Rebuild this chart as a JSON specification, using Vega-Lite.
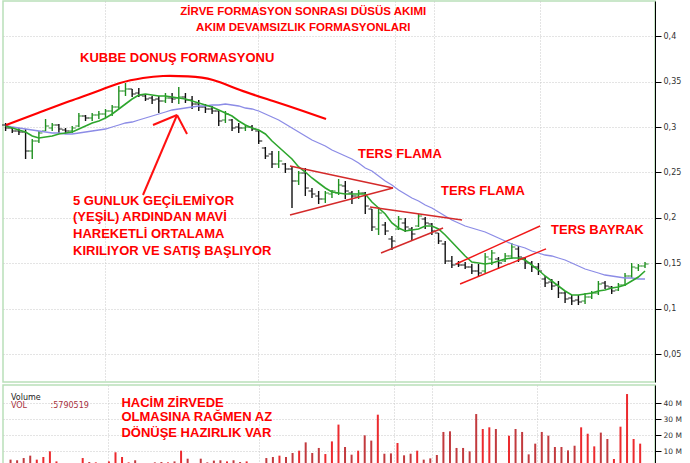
{
"$schema":"https://vega.github.io/schema/vega-lite/v6.json",
"padding":0,
"spacing":1,
"background":"white",
"config":{"view":{"stroke":null},"font":"Liberation Sans"},
"datasets":{
"bars":[
{"i":0,"open":0.3022,"high":0.3044,"low":0.2956,"close":0.2989,"ma5":0.3011,"ma20":0.3022,"vol":4600000},
{"i":1,"open":0.2989,"high":0.3000,"low":0.2934,"close":0.2956,"ma5":0.2989,"ma20":0.3000,"vol":4200000},
{"i":2,"open":0.2956,"high":0.2989,"low":0.2912,"close":0.2945,"ma5":0.2967,"ma20":0.2989,"vol":5600000},
{"i":3,"open":0.2945,"high":0.2978,"low":0.2648,"close":0.2736,"ma5":0.2945,"ma20":0.2978,"vol":7100000},
{"i":4,"open":0.2736,"high":0.2868,"low":0.2648,"close":0.2846,"ma5":0.2901,"ma20":0.2967,"vol":4600000},
{"i":5,"open":0.2846,"high":0.2956,"low":0.2824,"close":0.2934,"ma5":0.2879,"ma20":0.2956,"vol":6250000},
{"i":6,"open":0.2956,"high":0.3088,"low":0.2956,"close":0.3011,"ma5":0.2890,"ma20":0.2945,"vol":9800000},
{"i":7,"open":0.2989,"high":0.3044,"low":0.2956,"close":0.3022,"ma5":0.2901,"ma20":0.2934,"vol":3500000},
{"i":8,"open":0.3022,"high":0.3033,"low":0.2934,"close":0.2978,"ma5":0.2923,"ma20":0.2934,"vol":2500000},
{"i":9,"open":0.2967,"high":0.2989,"low":0.2923,"close":0.2956,"ma5":0.2934,"ma20":0.2923,"vol":1900000},
{"i":10,"open":0.2956,"high":0.3011,"low":0.2934,"close":0.2989,"ma5":0.2945,"ma20":0.2923,"vol":2500000},
{"i":11,"open":0.3011,"high":0.3154,"low":0.3000,"close":0.3121,"ma5":0.2978,"ma20":0.2934,"vol":5600000},
{"i":12,"open":0.3121,"high":0.3132,"low":0.3066,"close":0.3099,"ma5":0.3011,"ma20":0.2945,"vol":3100000},
{"i":13,"open":0.3099,"high":0.3154,"low":0.3066,"close":0.3132,"ma5":0.3044,"ma20":0.2956,"vol":2900000},
{"i":14,"open":0.3132,"high":0.3176,"low":0.3088,"close":0.3143,"ma5":0.3066,"ma20":0.2967,"vol":2500000},
{"i":15,"open":0.3143,"high":0.3198,"low":0.3099,"close":0.3176,"ma5":0.3099,"ma20":0.2978,"vol":3500000},
{"i":16,"open":0.3176,"high":0.3242,"low":0.3121,"close":0.3220,"ma5":0.3143,"ma20":0.3000,"vol":9200000},
{"i":17,"open":0.3220,"high":0.3451,"low":0.3198,"close":0.3396,"ma5":0.3198,"ma20":0.3022,"vol":6250000},
{"i":18,"open":0.3396,"high":0.3484,"low":0.3341,"close":0.3418,"ma5":0.3253,"ma20":0.3044,"vol":2900000},
{"i":19,"open":0.3418,"high":0.3418,"low":0.3330,"close":0.3363,"ma5":0.3308,"ma20":0.3055,"vol":4200000},
{"i":20,"open":0.3374,"high":0.3429,"low":0.3330,"close":0.3352,"ma5":0.3352,"ma20":0.3077,"vol":2500000},
{"i":21,"open":0.3341,"high":0.3363,"low":0.3286,"close":0.3308,"ma5":0.3363,"ma20":0.3099,"vol":1900000},
{"i":22,"open":0.3319,"high":0.3341,"low":0.3253,"close":0.3297,"ma5":0.3352,"ma20":0.3121,"vol":2900000},
{"i":23,"open":0.3308,"high":0.3341,"low":0.3154,"close":0.3286,"ma5":0.3341,"ma20":0.3143,"vol":3100000},
{"i":24,"open":0.3286,"high":0.3374,"low":0.3264,"close":0.3319,"ma5":0.3341,"ma20":0.3165,"vol":2900000},
{"i":25,"open":0.3319,"high":0.3374,"low":0.3264,"close":0.3308,"ma5":0.3330,"ma20":0.3187,"vol":3500000},
{"i":26,"open":0.3319,"high":0.3440,"low":0.3253,"close":0.3330,"ma5":0.3319,"ma20":0.3198,"vol":10200000},
{"i":27,"open":0.3330,"high":0.3374,"low":0.3264,"close":0.3297,"ma5":0.3308,"ma20":0.3209,"vol":5200000},
{"i":28,"open":0.3297,"high":0.3341,"low":0.3198,"close":0.3253,"ma5":0.3286,"ma20":0.3220,"vol":2500000},
{"i":29,"open":0.3253,"high":0.3297,"low":0.3176,"close":0.3220,"ma5":0.3264,"ma20":0.3231,"vol":5200000},
{"i":30,"open":0.3220,"high":0.3253,"low":0.3154,"close":0.3198,"ma5":0.3242,"ma20":0.3231,"vol":2900000},
{"i":31,"open":0.3198,"high":0.3231,"low":0.3143,"close":0.3176,"ma5":0.3220,"ma20":0.3242,"vol":4000000},
{"i":32,"open":0.3176,"high":0.3176,"low":0.3011,"close":0.3066,"ma5":0.3187,"ma20":0.3242,"vol":4200000},
{"i":33,"open":0.3077,"high":0.3176,"low":0.3044,"close":0.3143,"ma5":0.3154,"ma20":0.3253,"vol":3500000},
{"i":34,"open":0.3077,"high":0.3088,"low":0.2956,"close":0.2989,"ma5":0.3121,"ma20":0.3242,"vol":4200000},
{"i":35,"open":0.3000,"high":0.3044,"low":0.2934,"close":0.2989,"ma5":0.3066,"ma20":0.3231,"vol":3100000},
{"i":36,"open":0.2989,"high":0.3022,"low":0.2956,"close":0.3000,"ma5":0.3022,"ma20":0.3209,"vol":3500000},
{"i":37,"open":0.3000,"high":0.3022,"low":0.2956,"close":0.2978,"ma5":0.2989,"ma20":0.3198,"vol":2500000},
{"i":38,"open":0.2956,"high":0.2956,"low":0.2813,"close":0.2846,"ma5":0.2967,"ma20":0.3176,"vol":2500000},
{"i":39,"open":0.2769,"high":0.2780,"low":0.2648,"close":0.2681,"ma5":0.2923,"ma20":0.3143,"vol":5600000},
{"i":40,"open":0.2703,"high":0.2736,"low":0.2549,"close":0.2593,"ma5":0.2846,"ma20":0.3110,"vol":6250000},
{"i":41,"open":0.2593,"high":0.2736,"low":0.2549,"close":0.2626,"ma5":0.2780,"ma20":0.3077,"vol":7100000},
{"i":42,"open":0.2593,"high":0.2604,"low":0.2494,"close":0.2538,"ma5":0.2714,"ma20":0.3033,"vol":6250000},
{"i":43,"open":0.2538,"high":0.2571,"low":0.2109,"close":0.2406,"ma5":0.2648,"ma20":0.2989,"vol":8750000},
{"i":44,"open":0.2406,"high":0.2516,"low":0.2362,"close":0.2494,"ma5":0.2560,"ma20":0.2945,"vol":10200000},
{"i":45,"open":0.2494,"high":0.2549,"low":0.2241,"close":0.2329,"ma5":0.2505,"ma20":0.2901,"vol":15400000},
{"i":46,"open":0.2296,"high":0.2329,"low":0.2219,"close":0.2263,"ma5":0.2439,"ma20":0.2857,"vol":8750000},
{"i":47,"open":0.2241,"high":0.2296,"low":0.2153,"close":0.2208,"ma5":0.2384,"ma20":0.2824,"vol":11900000},
{"i":48,"open":0.2208,"high":0.2296,"low":0.2164,"close":0.2274,"ma5":0.2329,"ma20":0.2791,"vol":8100000},
{"i":49,"open":0.2263,"high":0.2307,"low":0.2219,"close":0.2296,"ma5":0.2285,"ma20":0.2747,"vol":16000000},
{"i":50,"open":0.2274,"high":0.2428,"low":0.2252,"close":0.2362,"ma5":0.2274,"ma20":0.2714,"vol":26500000},
{"i":51,"open":0.2351,"high":0.2406,"low":0.2208,"close":0.2296,"ma5":0.2263,"ma20":0.2681,"vol":12500000},
{"i":52,"open":0.2274,"high":0.2296,"low":0.2153,"close":0.2241,"ma5":0.2263,"ma20":0.2648,"vol":7700000},
{"i":53,"open":0.2241,"high":0.2307,"low":0.2208,"close":0.2274,"ma5":0.2263,"ma20":0.2604,"vol":10200000},
{"i":54,"open":0.2274,"high":0.2285,"low":0.2043,"close":0.2131,"ma5":0.2263,"ma20":0.2549,"vol":19800000},
{"i":55,"open":0.2098,"high":0.2098,"low":0.1856,"close":0.1900,"ma5":0.2175,"ma20":0.2516,"vol":16500000},
{"i":56,"open":0.1878,"high":0.2120,"low":0.1812,"close":0.2054,"ma5":0.2109,"ma20":0.2461,"vol":32700000},
{"i":57,"open":0.1922,"high":0.1955,"low":0.1812,"close":0.1856,"ma5":0.2043,"ma20":0.2406,"vol":8300000},
{"i":58,"open":0.1768,"high":0.1801,"low":0.1647,"close":0.1746,"ma5":0.1944,"ma20":0.2362,"vol":8500000},
{"i":59,"open":0.1878,"high":0.2021,"low":0.1867,"close":0.1988,"ma5":0.1889,"ma20":0.2307,"vol":15000000},
{"i":60,"open":0.1944,"high":0.1999,"low":0.1845,"close":0.1900,"ma5":0.1856,"ma20":0.2263,"vol":7300000},
{"i":61,"open":0.1878,"high":0.1900,"low":0.1757,"close":0.1823,"ma5":0.1867,"ma20":0.2219,"vol":8300000},
{"i":62,"open":0.1911,"high":0.2043,"low":0.1900,"close":0.2021,"ma5":0.1878,"ma20":0.2186,"vol":10200000},
{"i":63,"open":0.1988,"high":0.2010,"low":0.1878,"close":0.1944,"ma5":0.1911,"ma20":0.2142,"vol":4600000},
{"i":64,"open":0.1933,"high":0.1944,"low":0.1812,"close":0.1856,"ma5":0.1911,"ma20":0.2109,"vol":5400000},
{"i":65,"open":0.1834,"high":0.1834,"low":0.1713,"close":0.1746,"ma5":0.1878,"ma20":0.2065,"vol":7500000},
{"i":66,"open":0.1713,"high":0.1746,"low":0.1493,"close":0.1526,"ma5":0.1812,"ma20":0.2021,"vol":21900000},
{"i":67,"open":0.1526,"high":0.1581,"low":0.1449,"close":0.1482,"ma5":0.1735,"ma20":0.1977,"vol":22300000},
{"i":68,"open":0.1493,"high":0.1526,"low":0.1460,"close":0.1482,"ma5":0.1658,"ma20":0.1944,"vol":11900000},
{"i":69,"open":0.1482,"high":0.1515,"low":0.1438,"close":0.1460,"ma5":0.1581,"ma20":0.1911,"vol":11900000},
{"i":70,"open":0.1460,"high":0.1493,"low":0.1383,"close":0.1416,"ma5":0.1515,"ma20":0.1889,"vol":9800000},
{"i":71,"open":0.1416,"high":0.1493,"low":0.1350,"close":0.1394,"ma5":0.1504,"ma20":0.1867,"vol":33100000},
{"i":72,"open":0.1416,"high":0.1614,"low":0.1394,"close":0.1570,"ma5":0.1493,"ma20":0.1845,"vol":23750000},
{"i":73,"open":0.1548,"high":0.1647,"low":0.1482,"close":0.1614,"ma5":0.1504,"ma20":0.1812,"vol":24800000},
{"i":74,"open":0.1548,"high":0.1570,"low":0.1438,"close":0.1504,"ma5":0.1526,"ma20":0.1779,"vol":23750000},
{"i":75,"open":0.1526,"high":0.1614,"low":0.1515,"close":0.1581,"ma5":0.1548,"ma20":0.1746,"vol":1500000},
{"i":76,"open":0.1581,"high":0.1724,"low":0.1548,"close":0.1680,"ma5":0.1559,"ma20":0.1713,"vol":19600000},
{"i":77,"open":0.1658,"high":0.1691,"low":0.1515,"close":0.1570,"ma5":0.1559,"ma20":0.1691,"vol":23750000},
{"i":78,"open":0.1559,"high":0.1570,"low":0.1438,"close":0.1504,"ma5":0.1537,"ma20":0.1669,"vol":21900000},
{"i":79,"open":0.1504,"high":0.1526,"low":0.1405,"close":0.1460,"ma5":0.1482,"ma20":0.1636,"vol":7900000},
{"i":80,"open":0.1460,"high":0.1504,"low":0.1372,"close":0.1416,"ma5":0.1427,"ma20":0.1614,"vol":14600000},
{"i":81,"open":0.1328,"high":0.1361,"low":0.1240,"close":0.1284,"ma5":0.1361,"ma20":0.1592,"vol":21900000},
{"i":82,"open":0.1295,"high":0.1328,"low":0.1207,"close":0.1251,"ma5":0.1306,"ma20":0.1581,"vol":19600000},
{"i":83,"open":0.1262,"high":0.1306,"low":0.1119,"close":0.1174,"ma5":0.1251,"ma20":0.1559,"vol":12500000},
{"i":84,"open":0.1174,"high":0.1196,"low":0.1064,"close":0.1108,"ma5":0.1196,"ma20":0.1537,"vol":12500000},
{"i":85,"open":0.1119,"high":0.1152,"low":0.1042,"close":0.1086,"ma5":0.1152,"ma20":0.1504,"vol":10400000},
{"i":86,"open":0.1097,"high":0.1152,"low":0.1042,"close":0.1075,"ma5":0.1152,"ma20":0.1471,"vol":13300000},
{"i":87,"open":0.1086,"high":0.1174,"low":0.1053,"close":0.1130,"ma5":0.1163,"ma20":0.1438,"vol":24800000},
{"i":88,"open":0.1130,"high":0.1196,"low":0.1108,"close":0.1174,"ma5":0.1174,"ma20":0.1416,"vol":20800000},
{"i":89,"open":0.1174,"high":0.1306,"low":0.1152,"close":0.1273,"ma5":0.1196,"ma20":0.1394,"vol":12900000},
{"i":90,"open":0.1284,"high":0.1306,"low":0.1218,"close":0.1251,"ma5":0.1207,"ma20":0.1372,"vol":21500000},
{"i":91,"open":0.1240,"high":0.1251,"low":0.1163,"close":0.1196,"ma5":0.1229,"ma20":0.1361,"vol":17500000},
{"i":92,"open":0.1207,"high":0.1284,"low":0.1196,"close":0.1262,"ma5":0.1240,"ma20":0.1350,"vol":5000000},
{"i":93,"open":0.1262,"high":0.1394,"low":0.1251,"close":0.1361,"ma5":0.1262,"ma20":0.1339,"vol":25200000},
{"i":94,"open":0.1361,"high":0.1504,"low":0.1339,"close":0.1460,"ma5":0.1306,"ma20":0.1339,"vol":45600000},
{"i":95,"open":0.1449,"high":0.1493,"low":0.1416,"close":0.1471,"ma5":0.1350,"ma20":0.1328,"vol":17500000},
{"i":96,"open":0.1471,"high":0.1515,"low":0.1449,"close":0.1493,"ma5":0.1416,"ma20":0.1328,"vol":14600000}
],
"ann":[
{"kind":"arc","seg":"arc","i":0.06,"p":0.3022},{"kind":"arc","seg":"arc","i":4.86,"p":0.3154},{"kind":"arc","seg":"arc","i":9.67,"p":0.3286},{"kind":"arc","seg":"arc","i":13.87,"p":0.3396},{"kind":"arc","seg":"arc","i":17.18,"p":0.3484},{"kind":"arc","seg":"arc","i":20.63,"p":0.3539},{"kind":"arc","seg":"arc","i":23.63,"p":0.3561},{"kind":"arc","seg":"arc","i":27.39,"p":0.3556},{"kind":"arc","seg":"arc","i":31.14,"p":0.3517},{"kind":"arc","seg":"arc","i":35.2,"p":0.3407},{"kind":"arc","seg":"arc","i":40.15,"p":0.3286},{"kind":"arc","seg":"arc","i":44.65,"p":0.3176},{"kind":"arc","seg":"arc","i":48.11,"p":0.3088},
{"kind":"arrow","seg":"shaft","i":20.63,"p":0.2252},{"kind":"arrow","seg":"shaft","i":25.74,"p":0.3132},
{"kind":"arrow","seg":"barbL","i":22.13,"p":0.3022},{"kind":"arrow","seg":"barbL","i":25.74,"p":0.3132},
{"kind":"arrow","seg":"barbR","i":25.74,"p":0.3132},{"kind":"arrow","seg":"barbR","i":27.24,"p":0.2923},
{"kind":"tri","seg":"t1u","i":42.7,"p":0.2571},{"kind":"tri","seg":"t1u","i":58.17,"p":0.2329},
{"kind":"tri","seg":"t1l","i":42.7,"p":0.2032},{"kind":"tri","seg":"t1l","i":58.17,"p":0.2329},
{"kind":"tri","seg":"t2u","i":54.71,"p":0.2120},{"kind":"tri","seg":"t2u","i":68.53,"p":0.1977},
{"kind":"tri","seg":"t2l","i":56.36,"p":0.1614},{"kind":"tri","seg":"t2l","i":65.68,"p":0.1889},
{"kind":"flag","seg":"fu","i":67.63,"p":0.1493},{"kind":"flag","seg":"fu","i":80.24,"p":0.1911},
{"kind":"flag","seg":"fl","i":68.23,"p":0.1273},{"kind":"flag","seg":"fl","i":81.14,"p":0.1659}
],
"txt":[
{"kind":"title","t":"ZİRVE FORMASYON SONRASI DÜSÜS AKIMI","i":44.7,"p":0.4265},
{"kind":"title","t":"AKIM DEVAMSIZLIK  FORMASYONLARI","i":44.7,"p":0.4089},
{"kind":"big","t":"KUBBE DONUŞ FORMASYONU","i":11.17,"p":0.3759},
{"kind":"big","t":"TERS FLAMA","i":52.91,"p":0.2703},
{"kind":"big","t":"TERS FLAMA","i":65.38,"p":0.2296},
{"kind":"big","t":"TERS BAYRAK","i":81.89,"p":0.1867},
{"kind":"big","t":"5 GUNLUK GEÇİLEMİYOR","i":10.12,"p":0.2186},
{"kind":"big","t":"(YEŞİL) ARDINDAN MAVİ","i":10.12,"p":0.2010},
{"kind":"big","t":"HAREKETLİ ORTALAMA","i":10.12,"p":0.1823},
{"kind":"big","t":"KIRILIYOR VE SATIŞ BAŞLIYOR","i":10.12,"p":0.1636}
],
"vtxt":[
{"kind":"big","t":"HACİM ZİRVEDE","i":16.9,"v":40000000},
{"kind":"big","t":"OLMASINA RAĞMEN AZ","i":16.9,"v":31250000},
{"kind":"big","t":"DÖNÜŞE HAZIRLIK VAR","i":16.9,"v":21250000},
{"kind":"vol","t":"Volume","i":0.06,"v":43100000},
{"kind":"volred","t":"VOL","i":0.06,"v":37900000},
{"kind":"volred","t":":5790519","i":6.1,"v":37900000}
]
},
"vconcat":[
{
"width":652,"height":381,
"view":{"stroke":"#b9dfb9","strokeWidth":1.5},
"layer":[
{"data":{"name":"bars"},"mark":{"type":"rule","strokeWidth":1.4},
 "encoding":{
  "x":{"field":"i","type":"quantitative","title":null,"scale":{"domain":[-0.39,97.5],"nice":false,"zero":false},
       "axis":{"orient":"bottom","values":[14.92,37.9,58.47,64.32,80.24],"tickCount":20,"grid":true,"gridColor":"#c8c8c8","gridDash":[1,2],"ticks":false,"labels":false,"domain":false,"title":null}},
  "y":{"field":"low","type":"quantitative","title":null,"scale":{"domain":[0.0195,0.4386],"nice":false,"zero":false},
       "axis":{"orient":"right","title":null,"values":[0.05,0.1,0.15,0.2,0.25,0.3,0.35,0.4],"tickCount":20,
         "labelExpr":"replace(datum.value + '','.',',')","labelOverlap":false,
         "domainColor":"#000","domainWidth":1,"tickColor":"#000","tickSize":6,
         "grid":true,"gridColor":"#c8c8c8","gridDash":[1,2],
         "labelFont":"DejaVu Sans","labelFontSize":8,"labelColor":"#333","labelPadding":2}},
  "y2":{"field":"high"},
  "color":{"condition":{"test":"datum.close > datum.open","value":"#1f8f1f"},"value":"#111111"}
 }},
{"data":{"name":"bars"},"mark":{"type":"tick","orient":"horizontal","size":3.5,"thickness":1.3,"xOffset":-1.8},
 "encoding":{"x":{"field":"i","type":"quantitative","title":null},"y":{"field":"open","type":"quantitative","title":null},
  "color":{"condition":{"test":"datum.close > datum.open","value":"#1f8f1f"},"value":"#111111"}}},
{"data":{"name":"bars"},"mark":{"type":"tick","orient":"horizontal","size":3.5,"thickness":1.3,"xOffset":1.8},
 "encoding":{"x":{"field":"i","type":"quantitative","title":null},"y":{"field":"close","type":"quantitative","title":null},
  "color":{"condition":{"test":"datum.close > datum.open","value":"#1f8f1f"},"value":"#111111"}}},
{"data":{"name":"bars"},"mark":{"type":"line","color":"#8c8ce6","strokeWidth":1.3},
 "encoding":{"x":{"field":"i","type":"quantitative","title":null},"y":{"field":"ma20","type":"quantitative","title":null}}},
{"data":{"name":"bars"},"mark":{"type":"line","color":"#2ea62e","strokeWidth":1.6},
 "encoding":{"x":{"field":"i","type":"quantitative","title":null},"y":{"field":"ma5","type":"quantitative","title":null}}},
{"data":{"name":"ann"},"transform":[{"filter":"datum.kind=='arc'"}],"mark":{"type":"line","color":"#ff0000","strokeWidth":2.2,"interpolate":"natural"},
 "encoding":{"x":{"field":"i","type":"quantitative","title":null},"y":{"field":"p","type":"quantitative","title":null},"detail":{"field":"seg"}}},
{"data":{"name":"ann"},"transform":[{"filter":"datum.kind=='arrow'"}],"mark":{"type":"line","color":"#ff1010","strokeWidth":2},
 "encoding":{"x":{"field":"i","type":"quantitative","title":null},"y":{"field":"p","type":"quantitative","title":null},"detail":{"field":"seg"}}},
{"data":{"name":"ann"},"transform":[{"filter":"datum.kind=='tri'"}],"mark":{"type":"line","color":"#d42a2a","strokeWidth":1.4},
 "encoding":{"x":{"field":"i","type":"quantitative","title":null},"y":{"field":"p","type":"quantitative","title":null},"detail":{"field":"seg"}}},
{"data":{"name":"ann"},"transform":[{"filter":"datum.kind=='flag'"}],"mark":{"type":"line","color":"#f01818","strokeWidth":1.4},
 "encoding":{"x":{"field":"i","type":"quantitative","title":null},"y":{"field":"p","type":"quantitative","title":null},"detail":{"field":"seg"}}},
{"data":{"name":"txt"},"transform":[{"filter":"datum.kind=='title'"}],"mark":{"type":"text","font":"Liberation Sans","fontWeight":"bold","fontSize":11.5,"color":"#ff0000","align":"center","baseline":"middle"},
 "encoding":{"x":{"field":"i","type":"quantitative","title":null},"y":{"field":"p","type":"quantitative","title":null},"text":{"field":"t"}}},
{"data":{"name":"txt"},"transform":[{"filter":"datum.kind=='big'"}],"mark":{"type":"text","font":"Liberation Sans","fontWeight":"bold","fontSize":13,"color":"#ff0000","align":"left","baseline":"middle"},
 "encoding":{"x":{"field":"i","type":"quantitative","title":null},"y":{"field":"p","type":"quantitative","title":null},"text":{"field":"t"}}}
]
},
{
"width":652,"height":81,
"view":{"stroke":"#b9dfb9","strokeWidth":1.5},
"layer":[
{"data":{"name":"bars"},"mark":{"type":"bar","width":2,"clip":true},
 "encoding":{
  "x":{"field":"i","type":"quantitative","title":null,"scale":{"domain":[-0.39,97.5],"nice":false,"zero":false},
       "axis":{"orient":"bottom","values":[14.92,37.9,58.47,64.32,80.24],"tickCount":20,"grid":true,"gridColor":"#c8c8c8","gridDash":[1,2],"ticks":false,"labels":false,"domain":false,"title":null}},
  "y":{"field":"vol","type":"quantitative","title":null,"scale":{"domain":[625000,51250000],"nice":false,"zero":false},
       "axis":{"orient":"right","title":null,"values":[10000000,20000000,30000000,40000000],"tickCount":20,
         "labelExpr":"(datum.value/1000000) + ' M'","labelOverlap":false,
         "domainColor":"#000","tickColor":"#000","tickSize":6,
         "grid":true,"gridColor":"#c8c8c8","gridDash":[1,2],
         "labelFont":"DejaVu Sans","labelFontSize":7.5,"labelColor":"#333","labelPadding":2}},
  "color":{"condition":{"test":"datum.close > datum.open","value":"#ec2a2e"},"value":"#c23a3e"}
 }},
{"data":{"name":"vtxt"},"transform":[{"filter":"datum.kind=='big'"}],"mark":{"type":"text","font":"Liberation Sans","fontWeight":"bold","fontSize":13,"color":"#ff0000","align":"left","baseline":"middle"},
 "encoding":{"x":{"field":"i","type":"quantitative","title":null},"y":{"field":"v","type":"quantitative","title":null},"text":{"field":"t"}}},
{"data":{"name":"vtxt"},"transform":[{"filter":"datum.kind=='vol'"}],"mark":{"type":"text","font":"DejaVu Sans","fontSize":8,"color":"#222","align":"left","baseline":"middle"},
 "encoding":{"x":{"field":"i","type":"quantitative","title":null},"y":{"field":"v","type":"quantitative","title":null},"text":{"field":"t"}}},
{"data":{"name":"vtxt"},"transform":[{"filter":"datum.kind=='volred'"}],"mark":{"type":"text","font":"DejaVu Sans","fontSize":8,"color":"#a83240","align":"left","baseline":"middle"},
 "encoding":{"x":{"field":"i","type":"quantitative","title":null},"y":{"field":"v","type":"quantitative","title":null},"text":{"field":"t"}}}
]
}
]
}
